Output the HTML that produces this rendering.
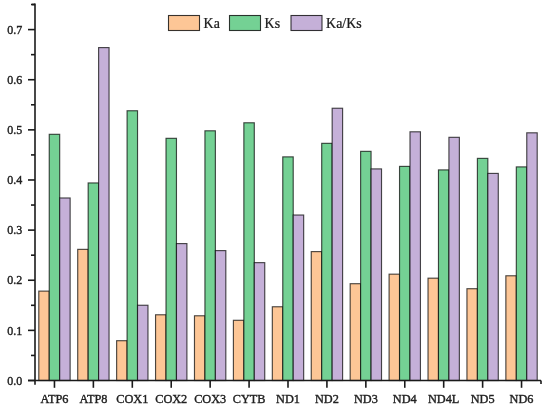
<!DOCTYPE html>
<html><head><meta charset="utf-8"><title>Ka Ks chart</title>
<style>html,body{margin:0;padding:0;background:#fff}body{width:550px;height:408px;overflow:hidden}</style>
</head><body>
<svg width="550" height="408" viewBox="0 0 550 408" style="display:block">
<defs><filter id="soft" x="0" y="0" width="100%" height="100%" filterUnits="userSpaceOnUse" color-interpolation-filters="sRGB"><feGaussianBlur stdDeviation="0.38"/></filter></defs>
<rect width="550" height="408" fill="#fff"/>
<g filter="url(#soft)">
<rect width="550" height="408" fill="#fff"/>
<rect x="38.79" y="291.12" width="10.45" height="89.38" fill="#FDC696" stroke="#000" stroke-opacity="0.7" stroke-width="1.15"/>
<rect x="49.24" y="134.31" width="10.45" height="246.19" fill="#74D194" stroke="#000" stroke-opacity="0.7" stroke-width="1.15"/>
<rect x="59.69" y="197.98" width="10.45" height="182.52" fill="#C5B0D8" stroke="#000" stroke-opacity="0.7" stroke-width="1.15"/>
<rect x="77.71" y="249.36" width="10.45" height="131.14" fill="#FDC696" stroke="#000" stroke-opacity="0.7" stroke-width="1.15"/>
<rect x="88.16" y="182.94" width="10.45" height="197.56" fill="#74D194" stroke="#000" stroke-opacity="0.7" stroke-width="1.15"/>
<rect x="98.61" y="47.59" width="10.45" height="332.91" fill="#C5B0D8" stroke="#000" stroke-opacity="0.7" stroke-width="1.15"/>
<rect x="116.63" y="340.70" width="10.45" height="39.80" fill="#FDC696" stroke="#000" stroke-opacity="0.7" stroke-width="1.15"/>
<rect x="127.08" y="110.75" width="10.45" height="269.75" fill="#74D194" stroke="#000" stroke-opacity="0.7" stroke-width="1.15"/>
<rect x="137.53" y="305.25" width="10.45" height="75.25" fill="#C5B0D8" stroke="#000" stroke-opacity="0.7" stroke-width="1.15"/>
<rect x="155.56" y="314.78" width="10.45" height="65.72" fill="#FDC696" stroke="#000" stroke-opacity="0.7" stroke-width="1.15"/>
<rect x="166.01" y="138.32" width="10.45" height="242.18" fill="#74D194" stroke="#000" stroke-opacity="0.7" stroke-width="1.15"/>
<rect x="176.46" y="243.59" width="10.45" height="136.91" fill="#C5B0D8" stroke="#000" stroke-opacity="0.7" stroke-width="1.15"/>
<rect x="194.48" y="315.78" width="10.45" height="64.72" fill="#FDC696" stroke="#000" stroke-opacity="0.7" stroke-width="1.15"/>
<rect x="204.93" y="130.80" width="10.45" height="249.70" fill="#74D194" stroke="#000" stroke-opacity="0.7" stroke-width="1.15"/>
<rect x="215.38" y="250.61" width="10.45" height="129.89" fill="#C5B0D8" stroke="#000" stroke-opacity="0.7" stroke-width="1.15"/>
<rect x="233.40" y="320.29" width="10.45" height="60.21" fill="#FDC696" stroke="#000" stroke-opacity="0.7" stroke-width="1.15"/>
<rect x="243.85" y="122.78" width="10.45" height="257.72" fill="#74D194" stroke="#000" stroke-opacity="0.7" stroke-width="1.15"/>
<rect x="254.30" y="262.64" width="10.45" height="117.86" fill="#C5B0D8" stroke="#000" stroke-opacity="0.7" stroke-width="1.15"/>
<rect x="272.32" y="306.76" width="10.45" height="73.74" fill="#FDC696" stroke="#000" stroke-opacity="0.7" stroke-width="1.15"/>
<rect x="282.77" y="156.87" width="10.45" height="223.63" fill="#74D194" stroke="#000" stroke-opacity="0.7" stroke-width="1.15"/>
<rect x="293.22" y="215.02" width="10.45" height="165.48" fill="#C5B0D8" stroke="#000" stroke-opacity="0.7" stroke-width="1.15"/>
<rect x="311.25" y="251.61" width="10.45" height="128.89" fill="#FDC696" stroke="#000" stroke-opacity="0.7" stroke-width="1.15"/>
<rect x="321.70" y="143.33" width="10.45" height="237.17" fill="#74D194" stroke="#000" stroke-opacity="0.7" stroke-width="1.15"/>
<rect x="332.15" y="108.24" width="10.45" height="272.26" fill="#C5B0D8" stroke="#000" stroke-opacity="0.7" stroke-width="1.15"/>
<rect x="350.17" y="283.70" width="10.45" height="96.80" fill="#FDC696" stroke="#000" stroke-opacity="0.7" stroke-width="1.15"/>
<rect x="360.62" y="151.35" width="10.45" height="229.15" fill="#74D194" stroke="#000" stroke-opacity="0.7" stroke-width="1.15"/>
<rect x="371.07" y="168.90" width="10.45" height="211.60" fill="#C5B0D8" stroke="#000" stroke-opacity="0.7" stroke-width="1.15"/>
<rect x="389.09" y="274.17" width="10.45" height="106.33" fill="#FDC696" stroke="#000" stroke-opacity="0.7" stroke-width="1.15"/>
<rect x="399.54" y="166.39" width="10.45" height="214.11" fill="#74D194" stroke="#000" stroke-opacity="0.7" stroke-width="1.15"/>
<rect x="409.99" y="131.80" width="10.45" height="248.70" fill="#C5B0D8" stroke="#000" stroke-opacity="0.7" stroke-width="1.15"/>
<rect x="428.02" y="278.18" width="10.45" height="102.32" fill="#FDC696" stroke="#000" stroke-opacity="0.7" stroke-width="1.15"/>
<rect x="438.47" y="169.90" width="10.45" height="210.60" fill="#74D194" stroke="#000" stroke-opacity="0.7" stroke-width="1.15"/>
<rect x="448.92" y="137.32" width="10.45" height="243.18" fill="#C5B0D8" stroke="#000" stroke-opacity="0.7" stroke-width="1.15"/>
<rect x="466.94" y="288.71" width="10.45" height="91.79" fill="#FDC696" stroke="#000" stroke-opacity="0.7" stroke-width="1.15"/>
<rect x="477.39" y="158.37" width="10.45" height="222.13" fill="#74D194" stroke="#000" stroke-opacity="0.7" stroke-width="1.15"/>
<rect x="487.84" y="173.41" width="10.45" height="207.09" fill="#C5B0D8" stroke="#000" stroke-opacity="0.7" stroke-width="1.15"/>
<rect x="505.86" y="275.78" width="10.45" height="104.72" fill="#FDC696" stroke="#000" stroke-opacity="0.7" stroke-width="1.15"/>
<rect x="516.31" y="166.89" width="10.45" height="213.61" fill="#74D194" stroke="#000" stroke-opacity="0.7" stroke-width="1.15"/>
<rect x="526.76" y="132.81" width="10.45" height="247.69" fill="#C5B0D8" stroke="#000" stroke-opacity="0.7" stroke-width="1.15"/>
<g stroke="#1a1a1a" stroke-width="1.6" fill="none">
<path d="M35.0 3.6 V384.8"/>
<path d="M28 380.5 H541.0"/>
<path d="M35.0 380.50 H28"/>
<path d="M35.0 355.44 H31"/>
<path d="M35.0 330.37 H28"/>
<path d="M35.0 305.31 H31"/>
<path d="M35.0 280.24 H28"/>
<path d="M35.0 255.18 H31"/>
<path d="M35.0 230.11 H28"/>
<path d="M35.0 205.04 H31"/>
<path d="M35.0 179.98 H28"/>
<path d="M35.0 154.91 H31"/>
<path d="M35.0 129.85 H28"/>
<path d="M35.0 104.78 H31"/>
<path d="M35.0 79.72 H28"/>
<path d="M35.0 54.65 H31"/>
<path d="M35.0 29.59 H28"/>
<path d="M35.0 4.52 H31"/>
<path d="M35.0 4.5 H32"/>
<path d="M54.46 380.5 V387.8"/>
<path d="M93.38 380.5 V387.8"/>
<path d="M132.31 380.5 V387.8"/>
<path d="M171.23 380.5 V387.8"/>
<path d="M210.15 380.5 V387.8"/>
<path d="M249.08 380.5 V387.8"/>
<path d="M288.00 380.5 V387.8"/>
<path d="M326.92 380.5 V387.8"/>
<path d="M365.85 380.5 V387.8"/>
<path d="M404.77 380.5 V387.8"/>
<path d="M443.69 380.5 V387.8"/>
<path d="M482.62 380.5 V387.8"/>
<path d="M521.54 380.5 V387.8"/>
<path d="M541.0 380.5 V384"/>
</g>
<g font-family="'Liberation Serif', 'Times New Roman', serif" font-size="12.8" fill="#222" stroke="#222" stroke-width="0.4">
<text transform="translate(22.3 384.70) scale(0.94 1)" text-anchor="end">0.0</text>
<text transform="translate(22.3 334.57) scale(0.94 1)" text-anchor="end">0.1</text>
<text transform="translate(22.3 284.44) scale(0.94 1)" text-anchor="end">0.2</text>
<text transform="translate(22.3 234.31) scale(0.94 1)" text-anchor="end">0.3</text>
<text transform="translate(22.3 184.18) scale(0.94 1)" text-anchor="end">0.4</text>
<text transform="translate(22.3 134.05) scale(0.94 1)" text-anchor="end">0.5</text>
<text transform="translate(22.3 83.92) scale(0.94 1)" text-anchor="end">0.6</text>
<text transform="translate(22.3 33.79) scale(0.94 1)" text-anchor="end">0.7</text>
<text transform="translate(54.46 402.7) scale(0.96 1)" text-anchor="middle">ATP6</text>
<text transform="translate(93.38 402.7) scale(0.96 1)" text-anchor="middle">ATP8</text>
<text transform="translate(132.31 402.7) scale(0.96 1)" text-anchor="middle">COX1</text>
<text transform="translate(171.23 402.7) scale(0.96 1)" text-anchor="middle">COX2</text>
<text transform="translate(210.15 402.7) scale(0.96 1)" text-anchor="middle">COX3</text>
<text transform="translate(249.08 402.7) scale(0.96 1)" text-anchor="middle">CYTB</text>
<text transform="translate(288.00 402.7) scale(0.96 1)" text-anchor="middle">ND1</text>
<text transform="translate(326.92 402.7) scale(0.96 1)" text-anchor="middle">ND2</text>
<text transform="translate(365.85 402.7) scale(0.96 1)" text-anchor="middle">ND3</text>
<text transform="translate(404.77 402.7) scale(0.96 1)" text-anchor="middle">ND4</text>
<text transform="translate(443.69 402.7) scale(0.96 1)" text-anchor="middle">ND4L</text>
<text transform="translate(482.62 402.7) scale(0.96 1)" text-anchor="middle">ND5</text>
<text transform="translate(521.54 402.7) scale(0.96 1)" text-anchor="middle">ND6</text>
</g>
<g font-family="'Liberation Serif', 'Times New Roman', serif" font-size="14.2" fill="#1a1a1a" stroke="#1a1a1a" stroke-width="0.25">
<rect x="168.5" y="15.5" width="31" height="15" fill="#FDC696" stroke="#000" stroke-opacity="0.78" stroke-width="1.1"/>
<text transform="translate(203.6 27.6) scale(0.98 1)">Ka</text>
<rect x="229.5" y="15.5" width="31" height="15" fill="#74D194" stroke="#000" stroke-opacity="0.78" stroke-width="1.1"/>
<text transform="translate(264.6 27.6) scale(0.98 1)">Ks</text>
<rect x="291.0" y="15.5" width="31" height="15" fill="#C5B0D8" stroke="#000" stroke-opacity="0.78" stroke-width="1.1"/>
<text transform="translate(326.1 27.6) scale(0.98 1)">Ka/Ks</text>
</g>
</g>
</svg>
</body></html>
